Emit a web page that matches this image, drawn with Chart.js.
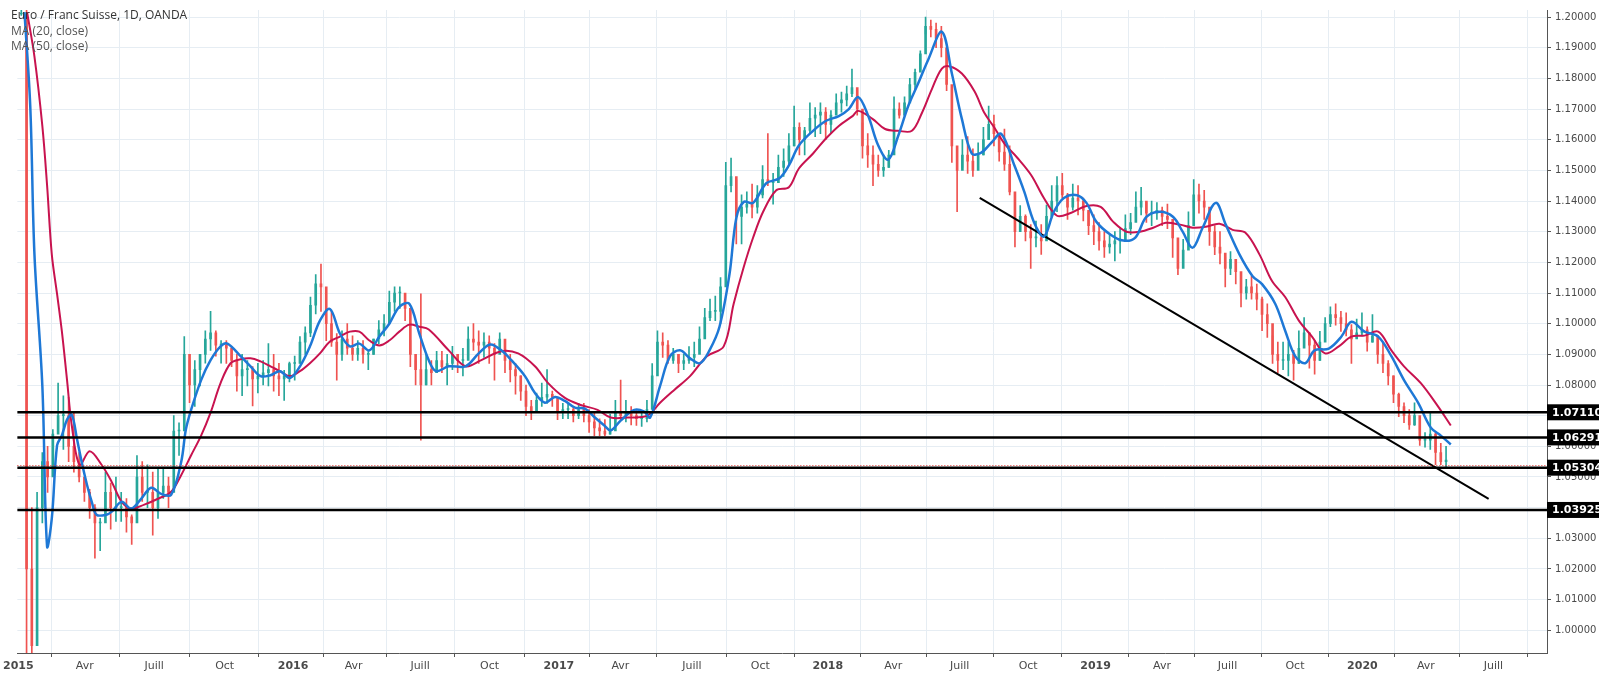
<!DOCTYPE html>
<html>
<head>
<meta charset="utf-8">
<script src="https://cdn.jsdelivr.net/npm/chart.js@4.4.1/dist/chart.umd.min.js"></script>
<style>
  html, body { margin: 0; padding: 0; background: #fff; overflow: hidden; }
  #wrap { width: 100vw; height: 100vh; position: relative; }
</style>
</head>
<body>
<div id="wrap"><canvas id="chart"></canvas></div>
<script>
// weekly candles, week 0 = 5 Jan 2015
const lows = [1.2005,0.985,0.985,1.00,1.035,1.045,1.0526,1.0655,1.059,1.055,1.0516,1.0484,1.042,1.0365,1.0235,1.026,1.0377,1.033,1.0355,1.0355,1.032,1.028,1.04,1.042,1.04,1.031,1.0365,1.043,1.04,1.0526,1.057,1.0839,1.0742,1.073,1.0797,1.0871,1.0913,1.0894,1.0871,1.087,1.086,1.078,1.0765,1.0797,1.0732,1.0774,1.08,1.0797,1.078,1.0765,1.075,1.081,1.0816,1.0871,1.09,1.0958,1.1032,1.104,1.0945,1.0926,1.0816,1.088,1.09,1.088,1.088,1.0871,1.085,1.09,1.0935,1.096,1.101,1.104,1.105,1.101,1.086,1.08,1.062,1.08,1.08,1.084,1.084,1.08,1.085,1.084,1.083,1.0894,1.0913,1.087,1.089,1.087,1.0816,1.091,1.084,1.081,1.077,1.075,1.070,1.0687,1.071,1.073,1.074,1.073,1.0687,1.069,1.069,1.068,1.069,1.068,1.0645,1.0635,1.0635,1.0635,1.064,1.0687,1.0687,1.068,1.067,1.0668,1.0665,1.068,1.08,1.09,1.089,1.087,1.087,1.084,1.085,1.087,1.086,1.0913,1.098,1.101,1.101,1.100,1.1258,1.143,1.126,1.126,1.136,1.1345,1.136,1.141,1.145,1.139,1.146,1.148,1.1516,1.158,1.155,1.155,1.162,1.161,1.162,1.160,1.162,1.169,1.169,1.171,1.174,1.168,1.154,1.151,1.145,1.148,1.148,1.151,1.168,1.167,1.168,1.174,1.176,1.183,1.1945,1.1935,1.190,1.187,1.176,1.1526,1.1365,1.151,1.149,1.148,1.151,1.155,1.160,1.158,1.153,1.150,1.142,1.125,1.1305,1.127,1.118,1.125,1.1226,1.130,1.1345,1.1365,1.141,1.134,1.137,1.1355,1.1335,1.129,1.1258,1.124,1.1216,1.123,1.1205,1.123,1.127,1.129,1.1345,1.1355,1.133,1.132,1.134,1.132,1.131,1.1216,1.116,1.121,1.1305,1.1377,1.136,1.134,1.1255,1.1225,1.1195,1.112,1.116,1.113,1.1055,1.108,1.108,1.1045,1.0977,1.0955,1.087,1.084,1.085,1.083,1.0816,1.087,1.0935,1.0855,1.0835,1.088,1.0955,1.099,1.0995,1.0975,1.096,1.087,1.0955,1.096,1.091,1.094,1.087,1.084,1.080,1.0742,1.0697,1.0677,1.0655,1.0668,1.0603,1.0597,1.059,1.054,1.054,1.053];
const highs = [1.2030,1.2030,1.04,1.045,1.058,1.06,1.0655,1.0806,1.0765,1.076,1.071,1.058,1.0484,1.046,1.041,1.0365,1.0516,1.048,1.050,1.045,1.043,1.0377,1.057,1.055,1.054,1.0516,1.0526,1.0526,1.050,1.070,1.0677,1.0958,1.088,1.088,1.090,1.0977,1.104,1.0977,1.0945,1.0945,1.0926,1.090,1.090,1.088,1.086,1.0871,1.088,1.0935,1.090,1.0871,1.0848,1.0875,1.0894,1.0958,1.099,1.1087,1.116,1.1194,1.103,1.104,1.0968,1.0977,1.10,1.096,1.0945,1.0945,1.0913,1.095,1.101,1.103,1.1106,1.112,1.112,1.1087,1.0945,1.088,1.1097,1.090,1.088,1.091,1.091,1.090,1.0926,1.090,1.092,1.099,1.100,1.0977,1.097,1.096,1.0935,1.097,1.091,1.090,1.087,1.083,1.080,1.075,1.0774,1.0806,1.085,1.078,1.075,1.074,1.074,1.073,1.074,1.074,1.072,1.071,1.069,1.0687,1.0705,1.075,1.0816,1.075,1.073,1.072,1.0715,1.075,1.087,1.0977,1.097,1.0945,1.092,1.090,1.090,1.0925,1.094,1.099,1.105,1.108,1.109,1.115,1.1526,1.154,1.147,1.142,1.143,1.1455,1.145,1.1516,1.162,1.149,1.155,1.157,1.162,1.171,1.1655,1.164,1.172,1.1705,1.172,1.1705,1.1695,1.175,1.1755,1.1775,1.183,1.176,1.1655,1.162,1.158,1.155,1.155,1.1565,1.174,1.172,1.174,1.18,1.183,1.189,1.20,1.199,1.198,1.197,1.190,1.171,1.157,1.160,1.161,1.157,1.159,1.164,1.171,1.168,1.162,1.1635,1.158,1.1365,1.1385,1.1355,1.1323,1.1335,1.1323,1.1387,1.145,1.148,1.149,1.1425,1.1455,1.145,1.141,1.1365,1.1355,1.133,1.130,1.129,1.130,1.131,1.1355,1.136,1.143,1.1445,1.1395,1.140,1.1395,1.138,1.139,1.130,1.126,1.1275,1.1365,1.147,1.1455,1.1435,1.1355,1.132,1.1300,1.1216,1.1235,1.121,1.115,1.1145,1.1155,1.1129,1.1087,1.1065,1.096,1.094,1.094,1.094,1.0913,1.0977,1.102,1.0965,1.0945,1.0975,1.1020,1.1055,1.1065,1.104,1.1035,1.0997,1.1015,1.1035,1.099,1.103,1.096,1.094,1.088,1.083,1.0774,1.0742,1.072,1.0742,1.0668,1.0645,1.071,1.0645,1.061,1.060];
const closes = [1.2010,1.02,0.995,1.04,1.055,1.05,1.064,1.07,1.07,1.06,1.055,1.05,1.045,1.04,1.035,1.035,1.045,1.04,1.04,1.04,1.037,1.035,1.05,1.045,1.045,1.04,1.045,1.047,1.045,1.065,1.065,1.09,1.08,1.085,1.09,1.095,1.097,1.093,1.093,1.092,1.088,1.083,1.085,1.085,1.082,1.083,1.084,1.085,1.083,1.082,1.083,1.087,1.087,1.094,1.097,1.106,1.113,1.112,1.10,1.094,1.09,1.095,1.092,1.09,1.092,1.09,1.09,1.095,1.098,1.10,1.107,1.11,1.11,1.105,1.09,1.085,1.08,1.085,1.084,1.088,1.086,1.087,1.09,1.088,1.088,1.095,1.094,1.093,1.094,1.092,1.09,1.095,1.088,1.085,1.083,1.078,1.073,1.071,1.075,1.076,1.077,1.076,1.071,1.072,1.072,1.07,1.072,1.07,1.068,1.066,1.065,1.064,1.065,1.071,1.07,1.071,1.07,1.069,1.069,1.072,1.083,1.094,1.093,1.088,1.09,1.087,1.088,1.089,1.09,1.095,1.102,1.104,1.104,1.112,1.145,1.148,1.135,1.138,1.139,1.138,1.142,1.147,1.146,1.146,1.151,1.153,1.158,1.164,1.160,1.163,1.167,1.168,1.169,1.165,1.168,1.172,1.173,1.175,1.177,1.170,1.158,1.155,1.152,1.150,1.151,1.155,1.170,1.168,1.172,1.178,1.182,1.188,1.197,1.196,1.193,1.190,1.178,1.158,1.15,1.155,1.153,1.150,1.155,1.160,1.165,1.162,1.156,1.152,1.143,1.13,1.135,1.130,1.128,1.128,1.127,1.135,1.140,1.145,1.142,1.138,1.141,1.14,1.137,1.132,1.130,1.127,1.125,1.126,1.127,1.127,1.131,1.133,1.138,1.140,1.136,1.136,1.137,1.135,1.134,1.128,1.118,1.124,1.132,1.142,1.140,1.138,1.13,1.125,1.123,1.118,1.121,1.117,1.110,1.112,1.11,1.108,1.103,1.100,1.09,1.088,1.088,1.090,1.087,1.092,1.097,1.093,1.088,1.094,1.1,1.103,1.102,1.100,1.098,1.095,1.097,1.098,1.094,1.096,1.09,1.087,1.083,1.077,1.073,1.070,1.067,1.070,1.062,1.062,1.064,1.058,1.055,1.0555];

// MA (20) and MA (50): week positions and values
const ma20X = [0.6,1.7,2.5,4.0,4.9,5.8,6.8,7.7,8.7,9.6,10.6,11.5,12.5,13.4,14.3,16.2,17.2,19.1,20.9,22.8,24.7,26.6,28.5,30.4,31.3,32.3,34.2,36.0,37.9,39.2,41.7,43.6,45.5,47.4,49.2,51.1,53.0,54.9,56.8,58.7,60.6,62.5,64.3,66.2,68.1,70.0,71.9,73.8,75.7,77.5,78.9,81.3,84.5,87.0,89.2,91.3,93.2,95.8,97.7,99.6,101.5,103.4,105.3,107.2,109.1,110.9,112.1,114.0,116.6,118.5,119.6,121.5,123.4,125.3,127.2,129.1,130.9,132.8,134.7,136.0,137.4,139.2,141.7,144.2,146.0,147.9,150.6,153.0,155.5,157.4,159.2,161.1,163.0,164.9,166.8,168.7,170.6,172.5,175.1,177.0,178.9,180.8,182.6,184.5,186.4,188.9,190.8,192.6,194.5,196.4,198.3,200.8,202.6,204.5,207.2,209.6,211.9,214.0,216.6,219.1,220.9,222.8,224.7,227.2,229.1,231.7,234.2,236.0,238.5,240.4,242.3,244.2,246.0,248.7,251.1,253.0,255.5,258.1,260.6,263.0,265.7,268.1,270.0,271.9];
const ma20 = [1.2016,1.171,1.1226,1.0797,1.0274,1.0365,1.0603,1.0635,1.0687,1.0703,1.0623,1.0548,1.0474,1.0419,1.0377,1.0377,1.0387,1.0419,1.0397,1.0429,1.0465,1.0445,1.0442,1.0548,1.0655,1.0719,1.0816,1.0881,1.0926,1.0935,1.0894,1.0861,1.0829,1.0832,1.0845,1.0823,1.0861,1.0926,1.1010,1.1048,1.0968,1.0926,1.0935,1.0913,1.0958,1.1000,1.1055,1.1065,1.0968,1.0881,1.0845,1.0861,1.0861,1.0903,1.0932,1.0913,1.0881,1.0829,1.0774,1.0742,1.0761,1.0748,1.0726,1.0723,1.0694,1.0668,1.0652,1.0684,1.0719,1.0713,1.0694,1.0797,1.0894,1.0913,1.0887,1.0871,1.0913,1.0990,1.1161,1.1345,1.1397,1.1394,1.1458,1.1474,1.1516,1.1581,1.1629,1.1661,1.1677,1.1700,1.1739,1.1677,1.1581,1.1535,1.1613,1.1710,1.1784,1.1861,1.1952,1.1816,1.1668,1.1555,1.1558,1.1590,1.1619,1.1516,1.1429,1.1332,1.1284,1.1365,1.1410,1.1419,1.1394,1.1332,1.1290,1.1271,1.1281,1.1348,1.1365,1.1348,1.1300,1.1248,1.1313,1.1394,1.1323,1.1226,1.1155,1.1129,1.1065,1.0977,1.0894,1.0871,1.0913,1.0919,1.0958,1.1006,1.0974,1.0958,1.0894,1.0816,1.0742,1.0661,1.0635,1.0606];
const ma50X = [1.1,2.5,4.0,4.9,5.8,6.8,7.7,8.7,9.6,11.1,13.0,15.3,17.2,19.1,20.9,23.4,26.0,28.5,30.4,32.3,34.2,36.0,37.9,39.8,41.7,43.6,45.5,47.4,49.2,51.1,53.0,54.9,56.8,58.7,60.6,62.5,64.3,66.2,68.1,70.0,71.9,73.8,75.7,77.5,81.3,84.5,87.5,91.3,94.5,97.7,100.2,103.4,106.4,109.6,112.1,115.3,119.1,121.5,124.2,127.2,130.4,133.6,135.5,137.4,139.2,141.1,143.6,146.0,147.9,150.6,153.0,155.5,158.1,159.2,161.9,164.3,166.8,169.4,171.3,173.2,175.1,176.6,178.9,181.3,183.2,185.1,187.0,189.4,192.1,194.5,197.0,199.6,202.6,205.3,207.7,210.2,212.8,215.3,217.7,220.4,222.8,225.3,227.9,230.4,232.8,235.5,237.9,240.4,243.0,245.5,248.0,250.6,253.0,255.5,258.1,260.6,263.0,266.2,269.4,271.9];
const ma50 = [1.2016,1.1871,1.1645,1.1452,1.1226,1.1097,1.0977,1.0816,1.0668,1.0539,1.0584,1.0539,1.0484,1.0419,1.0397,1.0410,1.0429,1.0452,1.0506,1.0571,1.0635,1.0710,1.0806,1.0871,1.0884,1.0887,1.0877,1.0861,1.0845,1.0829,1.0845,1.0871,1.0903,1.0942,1.0958,1.0974,1.0974,1.0945,1.0929,1.0945,1.0974,1.0997,1.0990,1.0981,1.0913,1.0861,1.0881,1.0910,1.0903,1.0861,1.0806,1.0758,1.0735,1.0719,1.0694,1.0694,1.0700,1.0742,1.0784,1.0829,1.0894,1.0926,1.1065,1.1184,1.1281,1.1365,1.1435,1.1445,1.1506,1.1555,1.1603,1.1645,1.1677,1.1694,1.1668,1.1635,1.1629,1.1629,1.1687,1.1765,1.1832,1.1839,1.1816,1.1758,1.1687,1.1639,1.1587,1.1542,1.1484,1.1410,1.1352,1.1361,1.1384,1.1381,1.1332,1.1300,1.1300,1.1313,1.1329,1.1323,1.1313,1.1316,1.1326,1.1306,1.1297,1.1226,1.1139,1.1087,1.1010,1.0958,1.0903,1.0926,1.0958,1.0961,1.0974,1.0913,1.0861,1.0806,1.0732,1.0668];

// horizontal levels, trend line, last price
const levels = [1.07110, 1.06291, 1.05304, 1.03925];
const trendX = [182.3, 279.1];
const trendY = [1.1410, 1.0429];
const lastPrice = 1.0539;

// x axis ticks (week positions) and labels
const tickPos = [-0.57,12.08,25.28,38.68,51.70,63.21,75.85,89.06,102.26,113.96,127.55,140.57,153.40,165.85,178.49,191.51,204.34,216.98,229.43,242.26,255.09,267.17,280.0];
const tickLabels = ['2015','Avr','Juill','Oct','2016','Avr','Juill','Oct','2017','Avr','Juill','Oct','2018','Avr','Juill','Oct','2019','Avr','Juill','Oct','2020','Avr','Juill'];

const UP = '#26a69a', DOWN = '#ef5350';
const opens = closes.map((c, i) => i === 0 ? c : closes[i - 1]);
const wicks = lows.map((l, i) => ({ x: i, y: [l, highs[i]] }));
const bodies = closes.map((c, i) => ({ x: i, y: [opens[i], c] }));
const candleColor = ctx => closes[ctx.dataIndex] >= opens[ctx.dataIndex] ? UP : DOWN;

const overlay = {
  id: 'overlay',
  afterDatasetsDraw(chart) {
    const { ctx, chartArea: a, scales: { y } } = chart;
    ctx.save();
    ctx.strokeStyle = '#e53935';
    ctx.lineWidth = 1;
    ctx.setLineDash([1, 2]);
    const ly = Math.round(y.getPixelForValue(lastPrice)) + 0.5;
    ctx.beginPath(); ctx.moveTo(a.left, ly); ctx.lineTo(a.right, ly); ctx.stroke();
    ctx.setLineDash([]);
    ctx.strokeStyle = '#000';
    ctx.lineWidth = 2.5;
    levels.forEach(v => {
      const py = y.getPixelForValue(v);
      ctx.beginPath(); ctx.moveTo(a.left, py); ctx.lineTo(a.right, py); ctx.stroke();
    });
    ctx.restore();
  },
  afterDraw(chart) {
    const { ctx, chartArea: a, scales: { y } } = chart;
    ctx.save();
    ctx.font = 'bold 11px "DejaVu Sans"';
    ctx.textBaseline = 'middle';
    levels.forEach(v => {
      const py = y.getPixelForValue(v);
      ctx.fillStyle = '#000';
      ctx.fillRect(a.right, py - 8, 52, 16);
      ctx.fillStyle = '#fff';
      ctx.fillText(v.toFixed(5), a.right + 5, py + 0.5);
    });
    ctx.textBaseline = 'alphabetic';
    ctx.font = '12px "Open Sans"';
    ctx.fillStyle = '#333';
    ctx.fillText('Euro / Franc Suisse, 1D, OANDA', 11, 19);
    ctx.fillStyle = '#555';
    ctx.fillText('MA (20, close)', 11, 35);
    ctx.fillText('MA (50, close)', 11, 50);
    ctx.restore();
  }
};

new Chart(document.getElementById('chart'), {
  data: {
    datasets: [
      { type: 'line', data: ma20.map((v, i) => ({ x: ma20X[i], y: v })), borderColor: '#1e78d6', borderWidth: 2.5, pointRadius: 0, tension: 0.35, order: 0 },
      { type: 'line', data: ma50.map((v, i) => ({ x: ma50X[i], y: v })), borderColor: '#c8134f', borderWidth: 2, pointRadius: 0, tension: 0.35, order: 1 },
      { type: 'line', data: trendX.map((v, i) => ({ x: v, y: trendY[i] })), borderColor: '#000', borderWidth: 2, pointRadius: 0, order: 0 },
      { type: 'bar', data: wicks, backgroundColor: candleColor, barThickness: 1, grouped: false, order: 3 },
      { type: 'bar', data: bodies, backgroundColor: candleColor, barThickness: 2, minBarLength: 1, grouped: false, order: 2 }
    ]
  },
  options: {
    responsive: true,
    maintainAspectRatio: false,
    animation: false,
    layout: { padding: { left: 4, top: 2, right: 0, bottom: 0 } },
    plugins: { legend: { display: false }, tooltip: { enabled: false } },
    scales: {
      x: {
        type: 'linear', min: -0.75, max: 290.2, offset: false,
        afterBuildTicks: s => { s.ticks = tickPos.map(v => ({ value: v })); },
        afterFit: s => { s.height = 27; },
        ticks: {
          autoSkip: false, maxRotation: 0, color: '#4a4a4a',
          font: c => ({ family: '"DejaVu Sans"', size: 11, weight: /^\d/.test(tickLabels[c.index]) ? 'bold' : 'normal' }),
          callback: (v, i) => tickLabels[i]
        },
        grid: { color: '#e6edf3', tickLength: 4, tickColor: '#555' },
        border: { color: '#555' }
      },
      y: {
        position: 'right', min: 0.9926, max: 1.2023,
        afterBuildTicks: s => { const t = []; for (let v = 100; v <= 120; v++) t.push({ value: v / 100 }); s.ticks = t; },
        afterFit: s => { s.width = 53; },
        ticks: { color: '#4a4a4a', font: { family: '"DejaVu Sans"', size: 10 }, padding: 4, callback: v => v.toFixed(5) },
        grid: { color: '#e6edf3', tickLength: 4, tickColor: '#555' },
        border: { color: '#555' }
      }
    }
  },
  plugins: [overlay]
});
</script>
</body>
</html>
